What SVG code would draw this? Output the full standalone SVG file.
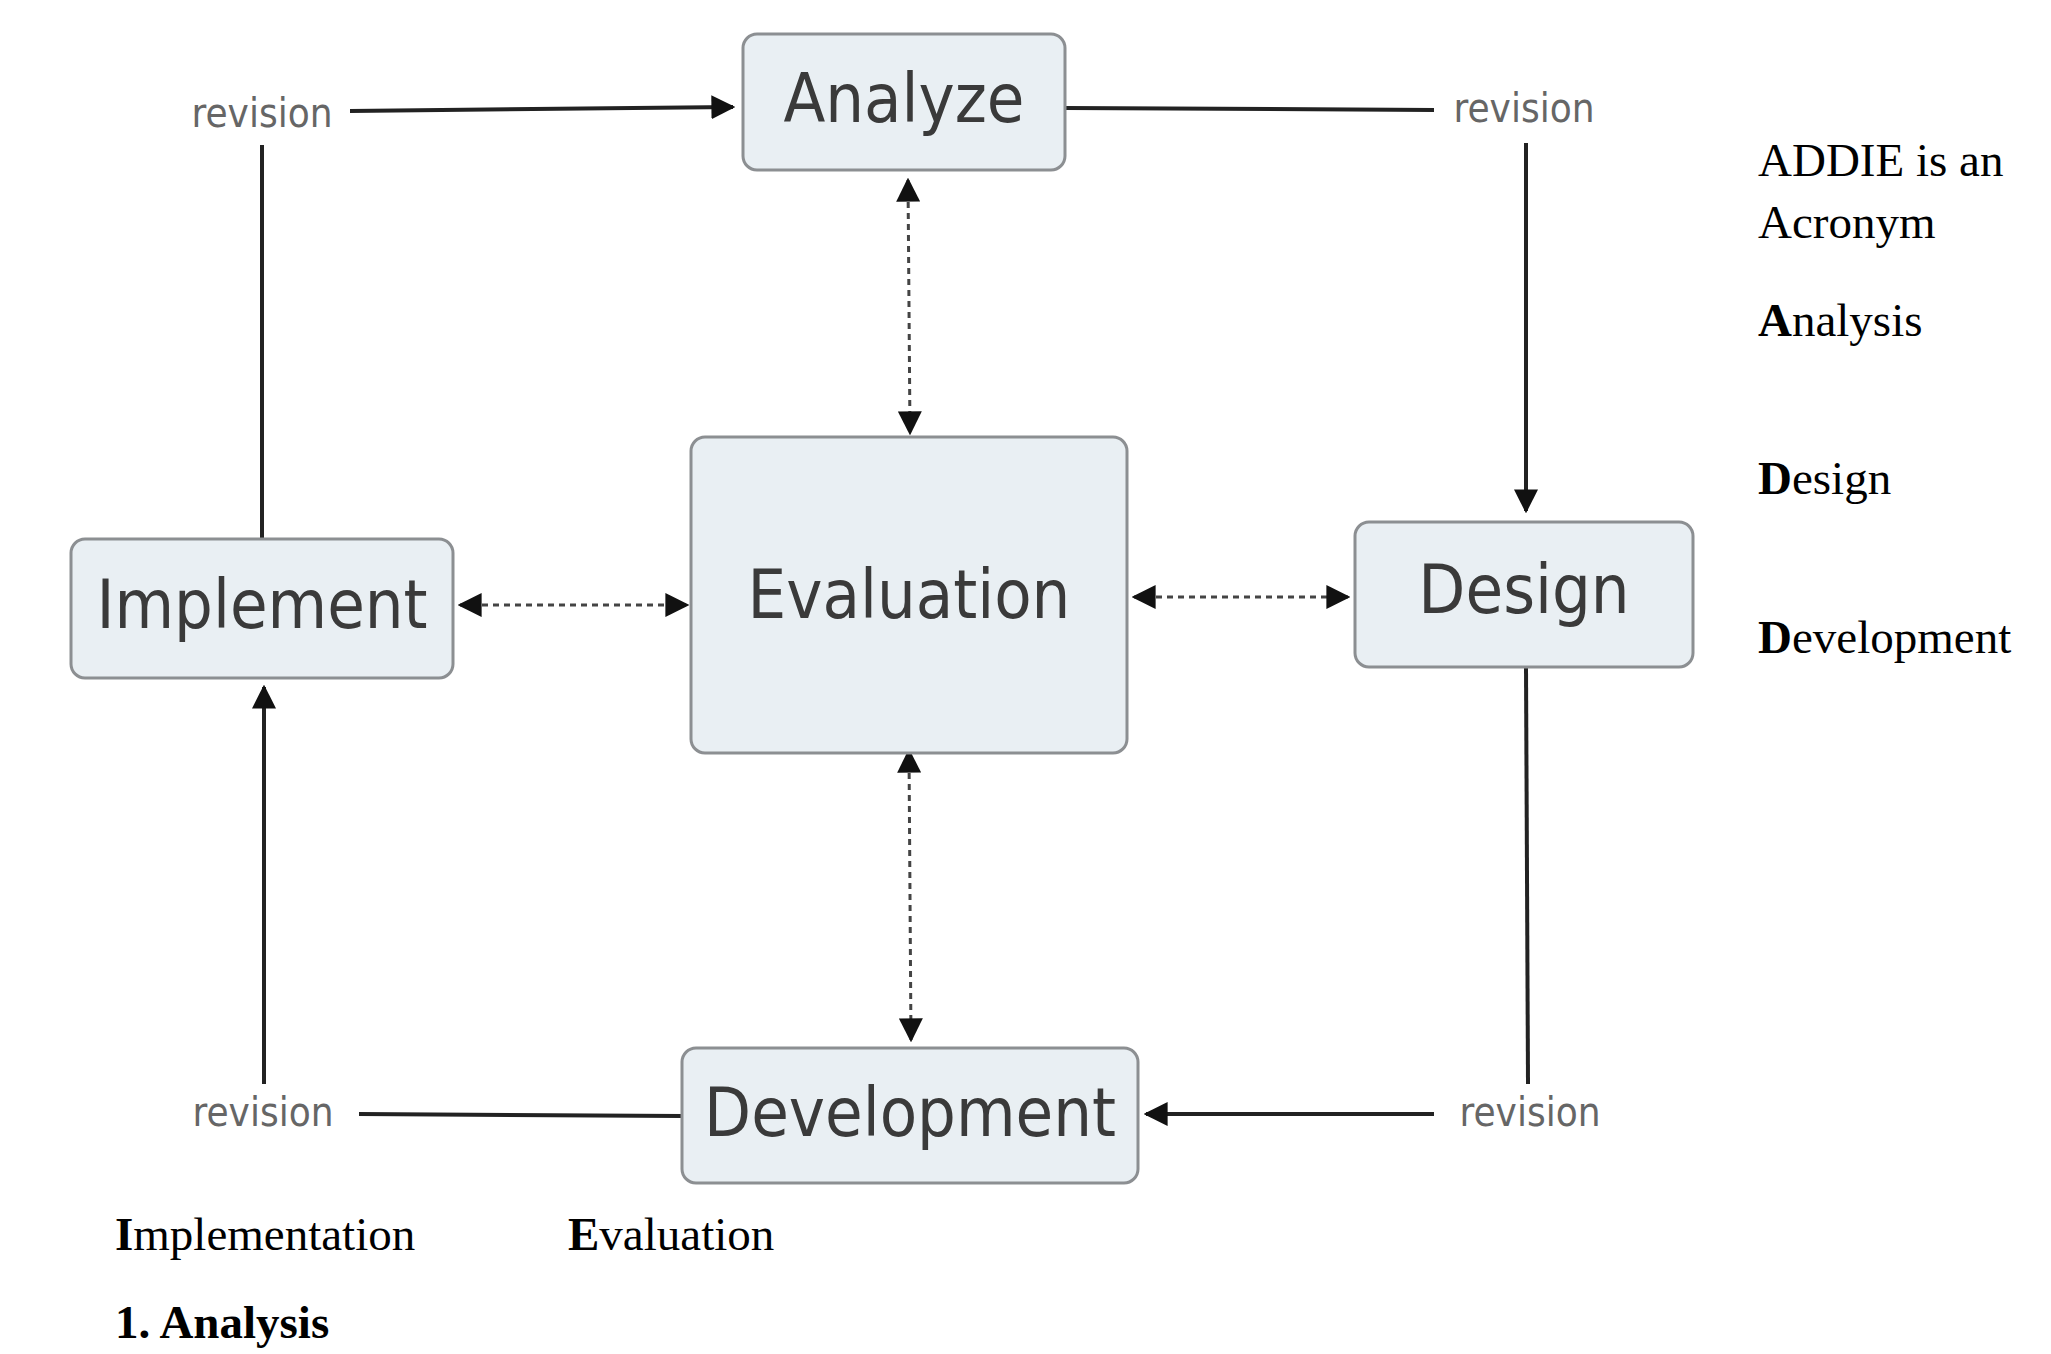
<svg xmlns="http://www.w3.org/2000/svg" width="2051" height="1354" viewBox="0 0 2051 1354">
<style>
.box{fill:#e9eff3;stroke:#8c8f92;stroke-width:3}
.nt{font-family:"DejaVu Sans Condensed","DejaVu Sans",sans-serif;fill:#3a3a3a;text-anchor:middle;font-size:68px}
.rv{font-family:"DejaVu Sans Condensed","DejaVu Sans",sans-serif;fill:#666;font-size:40px;text-anchor:middle}
.ln{stroke:#222;stroke-width:4;fill:none}
.dt{stroke:#444;stroke-width:3;stroke-dasharray:6 5;fill:none}
.tx{font-family:"Liberation Serif",serif;font-size:47px;fill:#000}
</style>
<defs>
<marker id="b" viewBox="0 0 10 10" refX="9" refY="5" markerWidth="24" markerHeight="24" markerUnits="userSpaceOnUse" orient="auto-start-reverse"><path d="M0,0L10,5L0,10z" fill="#111"/></marker>
</defs>
<rect width="2051" height="1354" fill="#fff"/>
<g id="connectors">
<line class="ln" x1="350" y1="111" x2="733" y2="107" marker-end="url(#b)"/>
<line class="ln" x1="1066" y1="108" x2="1434" y2="110"/>
<line class="ln" x1="1526" y1="143" x2="1526" y2="511" marker-end="url(#b)"/>
<line class="ln" x1="1526" y1="667" x2="1528" y2="1084"/>
<line class="ln" x1="1434" y1="1114" x2="1146" y2="1114" marker-end="url(#b)"/>
<line class="ln" x1="682" y1="1116" x2="359" y2="1114"/>
<line class="ln" x1="264" y1="1084" x2="264" y2="687" marker-end="url(#b)"/>
<line class="ln" x1="262" y1="145" x2="262" y2="539"/>
<line class="dt" x1="908" y1="180" x2="910" y2="433" marker-start="url(#b)" marker-end="url(#b)"/>
<line class="dt" x1="460" y1="605" x2="687" y2="605" marker-start="url(#b)" marker-end="url(#b)"/>
<line class="dt" x1="1134" y1="597" x2="1348" y2="597" marker-start="url(#b)" marker-end="url(#b)"/>
<line class="dt" x1="909" y1="751" x2="911" y2="1040" marker-start="url(#b)" marker-end="url(#b)"/>
</g>
<g id="rev-tl"><text class="rv" x="262" y="127">revision</text></g>
<g id="rev-tr"><text class="rv" x="1524" y="122">revision</text></g>
<g id="rev-bl"><text class="rv" x="263" y="1126">revision</text></g>
<g id="rev-br"><text class="rv" x="1530" y="1126">revision</text></g>
<g id="analyze"><rect class="box" x="743" y="34" width="322" height="136" rx="14"/><text class="nt" x="904" y="122">Analyze</text></g>
<g id="evaluation"><rect class="box" x="691" y="437" width="436" height="316" rx="14"/><text class="nt" x="909" y="618">Evaluation</text></g>
<g id="implement"><rect class="box" x="71" y="539" width="382" height="139" rx="14"/><text class="nt" x="262" y="628">Implement</text></g>
<g id="design"><rect class="box" x="1355" y="522" width="338" height="145" rx="14"/><text class="nt" x="1524" y="613">Design</text></g>
<g id="development"><rect class="box" x="682" y="1048" width="456" height="135" rx="14"/><text class="nt" x="910" y="1136">Development</text></g>
<g id="legend">
<text class="tx" x="1758" y="176">ADDIE is an</text>
<text class="tx" x="1758" y="238">Acronym</text>
<text class="tx" x="1758" y="336"><tspan font-weight="bold">A</tspan>nalysis</text>
<text class="tx" x="1758" y="494"><tspan font-weight="bold">D</tspan>esign</text>
<text class="tx" x="1758" y="653"><tspan font-weight="bold">D</tspan>evelopment</text>
<text class="tx" x="115" y="1250"><tspan font-weight="bold">I</tspan>mplementation</text>
<text class="tx" x="568" y="1250"><tspan font-weight="bold">E</tspan>valuation</text>
<text class="tx" x="115" y="1338" font-weight="bold">1. Analysis</text>
</g>
</svg>
